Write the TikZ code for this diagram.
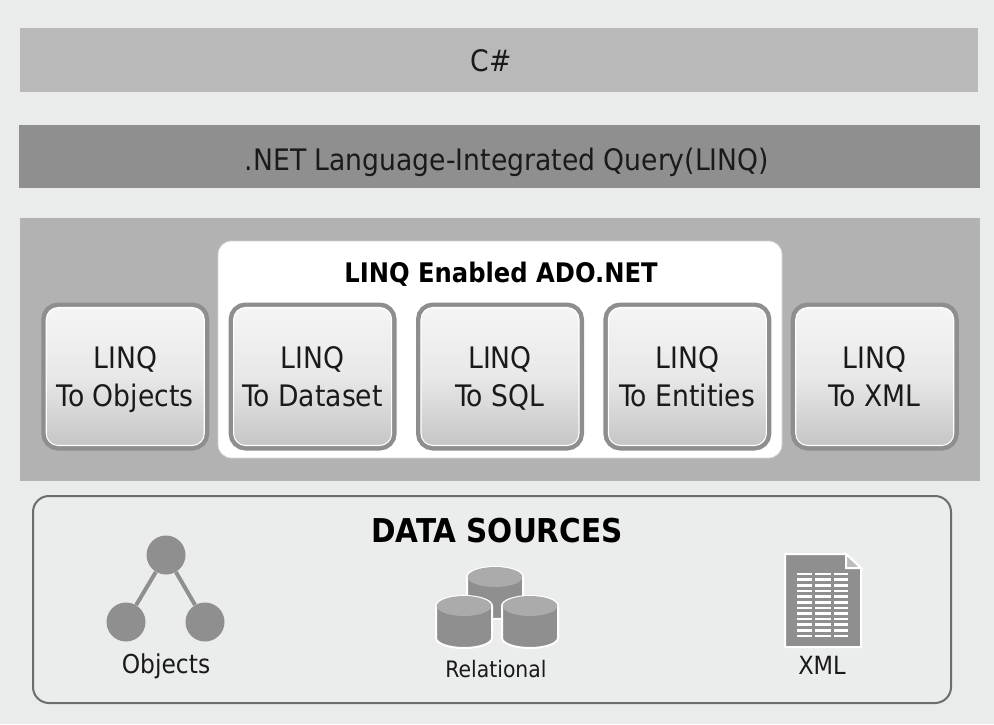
\documentclass[tikz,border=0pt]{standalone}
\usepackage{fontspec}
\setmainfont{DejaVu Sans Condensed}
\usetikzlibrary{positioning}
\definecolor{pagegray}{HTML}{EAEBEB}
\definecolor{iconback}{HTML}{EBECEC}
\definecolor{iconlight}{HTML}{ABABAB}
\definecolor{icondark}{HTML}{8F8F8F}
\definecolor{framegray}{HTML}{8E8E8E}
\definecolor{textblack}{HTML}{1A1A1A}
\tikzset{
  band/.style={minimum width=960*0.75pt, minimum height=64*0.75pt, inner sep=0pt},
  bandlabel/.style={inner sep=0pt, text=textblack, font=\fontsize{22.2}{26}\selectfont},
  linqbox/.style={minimum width=158*0.75pt, minimum height=138*0.75pt, inner sep=0pt, rounded corners=9pt, align=center,
    preaction={draw=framegray, line width=7.5pt}, draw=white, line width=0.8pt,
    top color=gray!8, bottom color=gray!45, middle color=gray!18, text=textblack,
    text height=44.25pt, text depth=0pt,
    font=\fontsize{22.2}{28.5}\selectfont},
  ball/.style={circle, fill=icondark, minimum size=39*0.75pt, inner sep=0pt},
  iconlabel/.style={inner sep=0pt, text=textblack, font=\fontsize{#1}{22}\selectfont},
  headlabel/.style={inner sep=0pt, text=black, font=\bfseries\fontsize{#1}{26}\selectfont}
}
% one drum of the relational icon
\newcommand{\drum}[2]{%
  \path[fill=icondark, draw=white, line width=1.5pt] (#1-28,#2) -- (#1-28,#2+32) arc[start angle=180, end angle=0, x radius=28, y radius=10] -- (#1+28,#2) arc[start angle=0, end angle=-180, x radius=28, y radius=10] -- cycle;
  \path[fill=iconlight] (#1,#2) ellipse[x radius=27.3, y radius=10];
}
\begin{document}
\begin{tikzpicture}[x=0.75pt, y=-0.75pt]
  \useasboundingbox (0,0) rectangle (994,724);
  \fill[pagegray] (0,0) rectangle (994,724);

  % Fasce superiori
  \node [band, fill=gray!55!white, minimum width=958*0.75pt] (csharp) at (499,60) {};
  \node [band, fill=icondark, minimum width=961*0.75pt, minimum height=63*0.75pt] (query) at (499.5,156.5) {};
  \node [bandlabel] (csharplabel) at (491,61) {C\#};
  \node [bandlabel] (querylabel) at (507,162) {.NET Language-Integrated Query(LINQ)};

  % Fascia LINQ
  \node [fill=gray!60!white, minimum width=960*0.75pt, minimum height=263*0.75pt, inner sep=0pt] (provider) at (500,349.5) {};
  \node [fill=white, draw=gray!35, line width=0.6pt, rounded corners=10pt, minimum width=564*0.75pt, minimum height=217*0.75pt, inner sep=0pt] (adonet) at (500,349.5) {};
  \node [headlabel=20.2] (adolabel) at (501,274) {LINQ Enabled ADO.NET};

  \node [linqbox] (sql) at (500,376.5) {LINQ\\To SQL};
  \node [linqbox, left=28.3*0.75pt of sql] (dataset) {LINQ\\To Dataset};
  \node [linqbox, left=28.3*0.75pt of dataset] (objectsbox) {LINQ\\To Objects};
  \node [linqbox, right=28.3*0.75pt of sql] (entities) {LINQ\\To Entities};
  \node [linqbox, right=28.3*0.75pt of entities] (xmlbox) {LINQ\\To XML};

  % Sorgenti dati
  \node [draw=gray!85!black, fill=iconback, line width=1.5pt, rounded corners=12pt, minimum width=918*0.75pt, minimum height=207*0.75pt, inner sep=0pt] (sources) at (492,599.5) {};
  \node [headlabel=24.6] (sourceslabel) at (497,531) {DATA SOURCES};

  \node [ball] (top) at (166,555) {};
  \node [ball] (left) at (126,622) {};
  \node [ball] (right) at (205,622) {};
  \draw [icondark, line width=3pt] (top) -- (left);
  \draw [icondark, line width=3pt] (top) -- (right);
  \node [iconlabel=19.5] (objects) at (166,666) {Objects};

  \drum{495}{577}
  \drum{464}{606}
  \drum{530}{606}
  \node [iconlabel=17] (relational) at (496,669) {Relational};

  \path[fill=icondark, draw=white, line width=1.5pt] (785,554) -- (846,554) -- (861,568) -- (861,647) -- (785,647) -- cycle;
  \path[fill=iconlight!80!white, draw=white, line width=1.5pt] (846,554) -- (861,568) -- (846,568) -- cycle;
  \foreach \row in {0,...,11}
    \foreach \colstart/\colend in {797/812, 815/831, 834/848}
      \fill[white] (\colstart,574+\row*5.63-1.2) rectangle (\colend,574+\row*5.63+1.4);
  \node [iconlabel=18.8] (xml) at (822,665) {XML};
\end{tikzpicture}
\end{document}
